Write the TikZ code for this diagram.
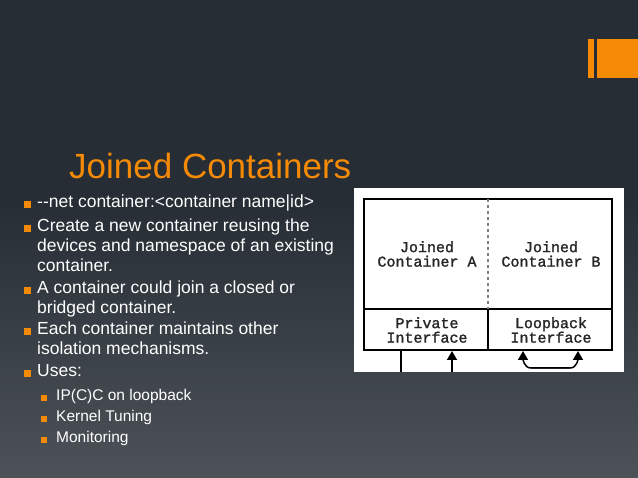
\documentclass[tikz,border=0pt]{standalone}
\usepackage{fontspec}
\setmainfont{Liberation Sans}
\newfontfamily\mono[FakeBold=1.5]{Liberation Mono}
\usetikzlibrary{arrows.meta}
\definecolor{org}{HTML}{F58A07}
\definecolor{bgtop}{HTML}{262D34}
\definecolor{bgbot}{HTML}{4C5258}
\begin{document}
\begin{tikzpicture}[x=1pt,y=-1pt,
  bul/.style={anchor=north west,text=white,font=\fontsize{17.5}{20}\selectfont,inner sep=0,align=left},
  sbul/.style={anchor=north west,text=white,font=\fontsize{15.5}{17}\selectfont,inner sep=0},
  sq/.style={fill=org,minimum size=7pt,inner sep=0},
  ssq/.style={fill=org,minimum size=6pt,inner sep=0},
  lbl/.style={font=\mono\fontsize{15}{14.5}\selectfont,align=center,text=black!85},
  arr/.style={-{Triangle[length=9pt,width=10pt]},line width=1.5pt}]
\useasboundingbox (0,0) rectangle (638,478);
\fill[bgtop] (0,0) rectangle (638,200);
\shade[top color=bgtop, bottom color=bgbot] (0,199) rectangle (638,478);
\fill[org] (588,39) rectangle (594,78);
\fill[org] (597,39) rectangle (638,78);
\node[anchor=west,text=org,font=\fontsize{35}{38}\selectfont,inner sep=0] (title) at (69,166) {Joined Containers};
% bullets
\node[sq] (s1) at (27,205) {}; \node[bul] (b1) at (37,195) {{-}{-}net container:<container name|id>};
\node[sq] (s2) at (27,229) {}; \node[bul] (b2) at (37,219) {Create a new container reusing the\\devices and namespace of an existing\\container.};
\node[sq] (s3) at (27,291) {}; \node[bul] (b3) at (37,281) {A container could join a closed or\\bridged container.};
\node[sq] (s4) at (27,332) {}; \node[bul] (b4) at (37,322) {Each container maintains other\\isolation mechanisms.};
\node[sq] (s5) at (27,374) {}; \node[bul] (b5) at (37,364) {Uses:};
\node[ssq] (t1) at (44,398) {}; \node[sbul] (c1) at (56,389) {IP(C)C on loopback};
\node[ssq] (t2) at (44,419) {}; \node[sbul] (c2) at (56,410) {Kernel Tuning};
\node[ssq] (t3) at (44,440) {}; \node[sbul] (c3) at (56,431) {Monitoring};
% diagram
\fill[white] (354,188) rectangle (624,372);
\draw[line width=1.6pt] (364,199) rectangle (612,350);
\draw[line width=1.6pt] (364,309) -- (612,309);
\draw[line width=1.6pt] (488,309) -- (488,350);
\draw[gray,line width=1.5pt,dash pattern=on 3pt off 3pt] (488,199) -- (488,309);
\node[lbl] (ja) at (427,254) {Joined\\Container A};
\node[lbl] (jb) at (551,254) {Joined\\Container B};
\node[lbl] (pi) at (427,330) {Private\\Interface};
\node[lbl] (li) at (551,330) {Loopback\\Interface};
\coordinate (p1) at (401,351); \coordinate (p1e) at (401,372);
\draw[line width=1.5pt] (p1) -- (p1e);
\coordinate (p2) at (452,372); \coordinate (p2e) at (452,351);
\draw[arr] (p2) -- (p2e);
\coordinate (l1) at (523,351); \coordinate (l2) at (578,351);
\draw[arr] (531,368) -- (570,368) to[out=0,in=-90] (l2);
\draw[arr] (570,368) -- (531,368) to[out=180,in=-90] (l1);
\end{tikzpicture}
\end{document}
